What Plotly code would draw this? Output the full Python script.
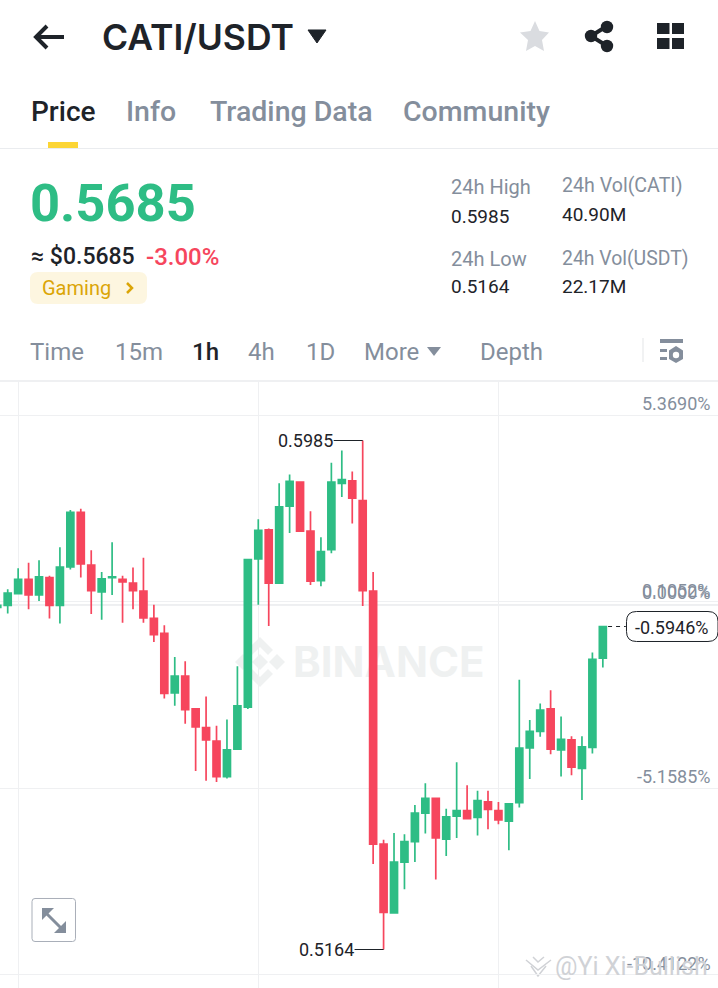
import plotly.graph_objects as go

W, H = 718, 988

# hourly candles, CATI/USDT
opens = [0.5716, 0.5719, 0.5738, 0.5761, 0.5736, 0.5764, 0.5719, 0.5781, 0.5869, 0.5784,
         0.5741, 0.5764, 0.5761, 0.5755, 0.5742, 0.5698, 0.5674, 0.5578, 0.5605, 0.5552,
         0.5522, 0.5500, 0.5443, 0.5487, 0.5555, 0.5794, 0.5841, 0.5755, 0.5879, 0.5918,
         0.5839, 0.5759, 0.5809, 0.5916, 0.5920, 0.5888, 0.5742, 0.5334, 0.5223, 0.5305,
         0.5338, 0.5384, 0.5408, 0.5342, 0.5379, 0.5388, 0.5377, 0.5402, 0.5388, 0.5371,
         0.5401, 0.5489, 0.5516, 0.5552, 0.5486, 0.5502, 0.5456, 0.5490, 0.5634]
highs = [0.5719, 0.5745, 0.5779, 0.5788, 0.5792, 0.5767, 0.5813, 0.5873, 0.5875, 0.5808,
         0.5773, 0.5821, 0.5767, 0.5780, 0.5796, 0.5720, 0.5687, 0.5636, 0.5629, 0.5553,
         0.5572, 0.5525, 0.5535, 0.5621, 0.5793, 0.5858, 0.5843, 0.5916, 0.5930, 0.5919,
         0.5871, 0.5829, 0.5949, 0.5969, 0.5935, 0.5985, 0.5773, 0.5341, 0.5352, 0.5350,
         0.5397, 0.5432, 0.5408, 0.5391, 0.5466, 0.5429, 0.5420, 0.5420, 0.5402, 0.5400,
         0.5599, 0.5534, 0.5561, 0.5582, 0.5540, 0.5508, 0.5508, 0.5643, 0.5685]
lows = [0.5713, 0.5706, 0.5737, 0.5713, 0.5726, 0.5698, 0.5690, 0.5777, 0.5764, 0.5705,
        0.5696, 0.5736, 0.5691, 0.5713, 0.5691, 0.5660, 0.5569, 0.5557, 0.5528, 0.5452,
        0.5436, 0.5434, 0.5440, 0.5487, 0.5552, 0.5720, 0.5686, 0.5755, 0.5836, 0.5839,
        0.5752, 0.5750, 0.5803, 0.5894, 0.5851, 0.5718, 0.5302, 0.5164, 0.5223, 0.5261,
        0.5305, 0.5351, 0.5277, 0.5315, 0.5344, 0.5374, 0.5348, 0.5358, 0.5366, 0.5324,
        0.5393, 0.5439, 0.5507, 0.5479, 0.5443, 0.5445, 0.5405, 0.5480, 0.5619]
closes = [0.5719, 0.5739, 0.5761, 0.5736, 0.5765, 0.5719, 0.5781, 0.5869, 0.5786, 0.5743,
          0.5762, 0.5765, 0.5757, 0.5743, 0.5699, 0.5672, 0.5577, 0.5605, 0.5551, 0.5523,
          0.5502, 0.5443, 0.5486, 0.5557, 0.5793, 0.5840, 0.5755, 0.5878, 0.5919, 0.5839,
          0.5758, 0.5806, 0.5918, 0.5922, 0.5892, 0.5743, 0.5334, 0.5224, 0.5305, 0.5338,
          0.5384, 0.5408, 0.5344, 0.5378, 0.5388, 0.5375, 0.5404, 0.5390, 0.5373, 0.5399,
          0.5489, 0.5516, 0.5550, 0.5487, 0.5503, 0.5458, 0.5491, 0.5632, 0.5685]
candle_idx = list(range(len(opens)))

base_price = 0.5719
pct_ticks = [5.3690, 0.1052, 0.0000, -5.1585, -10.4122]
pct_labels = ["5.3690%", "0.1052%", "0.0000%", "-5.1585%", "-10.4122%"]
vgrid_idx = [2, 25, 48]
last_pct_label = "-0.5946%"

GREEN = "#2EBD85"
RED = "#F6465D"
DARK = "#1E2329"
GREY = "#848E9C"
LINE = "#EFF0F2"
FONT = "Roboto"


def px(x):
    return x / W


def py(y):
    return 1 - y / H


def path(points, close=False):
    s = "M" + " L".join(f"{px(x):.5f},{py(y):.5f}" for x, y in points)
    return s + (" Z" if close else "")


shapes = []


def add_path(points, fill=None, stroke=None, width=0, close=True):
    shapes.append(dict(type="path", xref="paper", yref="paper", path=path(points, close),
                       fillcolor=fill or "rgba(0,0,0,0)",
                       line=dict(color=stroke or "rgba(0,0,0,0)", width=width), layer="below"))


def add_rect(x0, y0, x1, y1, fill):
    add_path([(x0, y0), (x1, y0), (x1, y1), (x0, y1)], fill=fill)


def add_line(points, color, width):
    add_path(points, stroke=color, width=width, close=False)


def add_round(x0, y0, x1, y1, r, fill=None, stroke=None, width=0, layer="above"):
    s = (f"M{px(x0 + r):.5f},{py(y0):.5f} L{px(x1 - r):.5f},{py(y0):.5f} "
         f"Q{px(x1):.5f},{py(y0):.5f} {px(x1):.5f},{py(y0 + r):.5f} "
         f"L{px(x1):.5f},{py(y1 - r):.5f} Q{px(x1):.5f},{py(y1):.5f} {px(x1 - r):.5f},{py(y1):.5f} "
         f"L{px(x0 + r):.5f},{py(y1):.5f} Q{px(x0):.5f},{py(y1):.5f} {px(x0):.5f},{py(y1 - r):.5f} "
         f"L{px(x0):.5f},{py(y0 + r):.5f} Q{px(x0):.5f},{py(y0):.5f} {px(x0 + r):.5f},{py(y0):.5f} Z")
    shapes.append(dict(type="path", xref="paper", yref="paper", path=s,
                       fillcolor=fill or "rgba(0,0,0,0)",
                       line=dict(color=stroke or "rgba(0,0,0,0)", width=width), layer=layer))


def add_circle(cx, cy, r, fill):
    shapes.append(dict(type="circle", xref="paper", yref="paper", x0=px(cx - r), x1=px(cx + r),
                       y0=py(cy + r), y1=py(cy - r), fillcolor=fill, line=dict(width=0), layer="below"))


annotations = []


def label(x, y, text, size, color=GREY, weight=400, anchor="left", family=FONT):
    # glyphs sit a little right of the annotation box edge
    dx = -0.05 * size if anchor == "left" else 0
    annotations.append(dict(xref="paper", yref="paper", x=px(x + dx), y=py(y), text=text, showarrow=False,
                            xanchor=anchor, yanchor="middle", borderpad=0,
                            font=dict(family=family, size=size, color=color, weight=weight)))


# header
add_line([(47, 26), (36, 37), (47, 48)], DARK, 4)
add_line([(36, 37), (64, 37)], DARK, 4)
label(103, 38, "CATI/USDT", 35.5, DARK, 600, family="Inter")
add_path([(308, 30), (326, 30), (317, 43)], fill=DARK, stroke=DARK, width=1)
add_path([(535, 21), (539.5, 31), (549, 32.5), (542, 40), (544, 51), (535, 46), (526, 51), (528, 40),
          (520, 32.5), (530.5, 31)], fill="#DADCE0")
add_line([(607, 26), (591, 36), (607, 46)], DARK, 4)
for cx, cy in [(607, 27), (591, 36), (607, 46)]:
    add_circle(cx, cy, 6.2, DARK)
for x0, x1 in [(657, 669.5), (672, 684)]:
    for y0, y1 in [(23, 34), (38, 49)]:
        add_rect(x0, y0, x1, y1, DARK)

label(31, 112, "Price", 28, DARK, 500)
label(126, 112, "Info", 28.5, GREY, 500)
label(210, 112, "Trading Data", 28.5, GREY, 500)
label(403, 112, "Community", 28.5, GREY, 500)
add_rect(48, 142, 78, 148, "#FCD535")
add_rect(0, 148, W, 149, "#EAECEF")

# ticker block
label(32, 203, "0.5685", 52.5, GREEN, 700)
label(31, 257, "≈ $0.5685", 23, DARK, 500)
label(146, 257, "-3.00%", 24, RED, 500)
add_round(30, 272, 147, 304, 8, fill="#FDF6E0", layer="below")
label(42, 288, "Gaming", 20, "#DBA507")
add_line([(127, 283), (132, 288), (127, 293)], "#DBA507", 2.5)
label(451, 187, "24h High", 20)
label(451, 216, "0.5985", 19, DARK)
label(562, 185, "24h Vol(CATI)", 19.6)
label(562, 214, "40.90M", 19, DARK)
label(451, 259, "24h Low", 20)
label(451, 287, "0.5164", 19, DARK)
label(562, 258, "24h Vol(USDT)", 19.4)
label(562, 286, "22.17M", 19, DARK)

# interval row
label(30, 352, "Time", 24)
label(115, 352, "15m", 24)
label(192, 352, "1h", 24, DARK, 500)
label(248, 352, "4h", 24)
label(306, 352, "1D", 24)
label(364, 352, "More", 24)
add_path([(427, 347), (441, 347), (434, 356)], fill=GREY)
label(480, 352, "Depth", 24)
add_rect(642.5, 338, 643.5, 362, "#E3E5E8")
add_rect(660, 339, 683, 343, GREY)
add_rect(660, 349, 667, 352, GREY)
add_rect(660, 357, 667, 360, GREY)
add_path([(676, 346), (683, 350.5), (683, 359), (676, 363), (669, 359), (669, 350.5)], fill=GREY)
add_circle(676, 355, 3.2, "#FFFFFF")
add_rect(0, 380, W, 382, LINE)

# watermark logo behind the candles
LOGO = "#EFF1F1"
lx, ly = 260, 662
add_path([(lx, ly - 8), (lx + 8, ly), (lx, ly + 8), (lx - 8, ly)], fill=LOGO)
add_path([(lx - 25, ly), (lx - 17, ly - 8), (lx - 9, ly), (lx - 17, ly + 8)], fill=LOGO)
add_path([(lx + 25, ly), (lx + 17, ly - 8), (lx + 9, ly), (lx + 17, ly + 8)], fill=LOGO)
add_path([(lx, ly - 25), (lx + 13, ly - 12), (lx + 8, ly - 7), (lx, ly - 15), (lx - 8, ly - 7), (lx - 13, ly - 12)], fill=LOGO)
add_path([(lx, ly + 25), (lx + 13, ly + 12), (lx + 8, ly + 7), (lx, ly + 15), (lx - 8, ly + 7), (lx - 13, ly + 12)], fill=LOGO)

pct_prices = [base_price * (1 + p / 100) for p in pct_ticks]

fig = go.Figure()
fig.add_trace(go.Scatter(x=[37.5], y=[0.5621], mode="text", text=["BINANCE"], zorder=-1,
                         textposition="middle center", hoverinfo="skip", showlegend=False,
                         textfont=dict(family="Inter", size=42, color=LOGO, weight=700)))
fig.add_trace(go.Candlestick(
    x=candle_idx, open=opens, high=highs, low=lows, close=closes,
    increasing=dict(line=dict(color=GREEN, width=1.7), fillcolor=GREEN),
    decreasing=dict(line=dict(color=RED, width=1.7), fillcolor=RED),
    whiskerwidth=0, hoverinfo="skip", showlegend=False,
))

# scale handles, the pane runs from pixel 381 down to the bottom
shapes.append(dict(type="line", xref="paper", yref="y", x0=0, x1=1, y0=base_price, y1=base_price,
                   line=dict(color="#BCC0C8", width=1.3), layer="below"))
shapes.append(dict(type="line", xref="x", yref="y", x0=58.5, x1=60.2, y0=closes[-1], y1=closes[-1],
                   line=dict(color=DARK, width=1, dash="4px,4px"), layer="above"))

for p, txt, shift in zip(pct_prices, pct_labels, [0, 0, 1, 0, 0]):
    annotations.append(dict(xref="paper", yref="y", x=px(711.5), y=p, text=txt, showarrow=False,
                            xanchor="right", yanchor="bottom", yshift=shift, borderpad=0,
                            font=dict(family=FONT, size=18, color=GREY)))

hi_i = highs.index(max(highs))
lo_i = lows.index(min(lows))
for i, val in [(hi_i, max(highs)), (lo_i, min(lows))]:
    annotations.append(dict(x=i, y=val, text=f"{val:.4f}", showarrow=True, arrowhead=0, arrowwidth=1.2,
                            arrowcolor=DARK, ax=-57, ay=0, standoff=0, borderpad=0,
                            font=dict(family=FONT, size=18, color=DARK)))

# last price tag
add_round(626.5, 611.5, 718, 641.5, 10, fill="#FFFFFF", stroke=DARK, width=1)
label(672, 627, last_pct_label, 18, DARK, anchor="center")

# expand button
add_round(32, 898.5, 75.5, 941.5, 3, fill="#FFFFFF", stroke="#A9AFB9", width=1)
ARROW = "#848E9C"
shapes.append(dict(type="line", xref="paper", yref="paper", x0=px(45), y0=py(912), x1=px(62), y1=py(929),
                   line=dict(color=ARROW, width=3), layer="above"))
for pts in ([(42, 920), (42, 908), (54, 908)], [(66, 921), (66, 933), (54, 933)]):
    shapes.append(dict(type="path", xref="paper", yref="paper", path=path(pts, True),
                       fillcolor=ARROW, line=dict(width=0), layer="above"))

# repost watermark
label(709, 966, "@Yi Xi-Bullish", 25, "#D0D2D6", anchor="right")
add_line([(526, 960), (538, 970), (551, 960)], "#D0D2D6", 1.5)
add_line([(531, 966), (538, 976), (546, 966)], "#D0D2D6", 1.5)
add_line([(533, 957), (538, 962), (544, 957)], "#D0D2D6", 1.5)

fig.update_layout(
    width=W, height=H, margin=dict(l=0, r=0, t=0, b=0),
    paper_bgcolor="white", plot_bgcolor="white", showlegend=False,
    boxgap=0.33, boxgroupgap=0,
    shapes=shapes, annotations=annotations,
    xaxis=dict(range=[0.262, 69.03], rangeslider=dict(visible=False), tickvals=vgrid_idx,
               showticklabels=False, ticks="", showgrid=True, gridcolor=LINE, gridwidth=1,
               zeroline=False, showline=False, fixedrange=True),
    yaxis=dict(domain=[0, 1 - 381 / H], range=[0.51019, 0.60810], side="right", tickvals=pct_prices,
               showticklabels=False, ticks="", showgrid=True, gridcolor=LINE, gridwidth=1,
               zeroline=False, showline=False, fixedrange=True),
)

fig.write_html("out.html", config=dict(displayModeBar=False),
               post_script="document.body.style.margin='0';document.body.style.overflow='hidden';")
